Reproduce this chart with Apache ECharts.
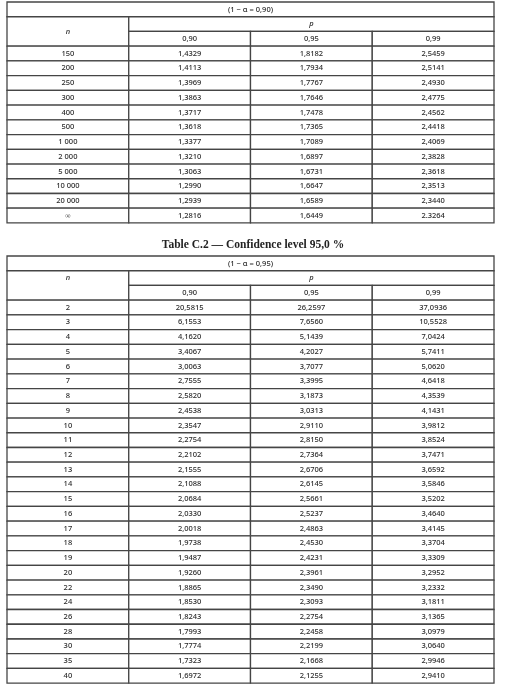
<!DOCTYPE html>
<html><head><meta charset="utf-8">
<script src="https://cdn.jsdelivr.net/npm/echarts@6/dist/echarts.min.js"></script>
<style>html,body{margin:0;padding:0;background:#fff}#c{width:506px;height:687px}</style>
</head><body><div id="c"></div>
<script>
const pLabels = ['0,90','0,95','0,99'];
const head1 = '(1 − α = 0,90)';
const head2 = '(1 − α = 0,95)';
const title2 = 'Table C.2 — Confidence level 95,0 %';
const n1 = ['150','200','250','300','400','500','1 000','2 000','5 000','10 000','20 000','∞'];
const t1p90 = ['1,4329','1,4113','1,3969','1,3863','1,3717','1,3618','1,3377','1,3210','1,3063','1,2990','1,2939','1,2816'];
const t1p95 = ['1,8182','1,7934','1,7767','1,7646','1,7478','1,7365','1,7089','1,6897','1,6731','1,6647','1,6589','1,6449'];
const t1p99 = ['2,5459','2,5141','2,4930','2,4775','2,4562','2,4418','2,4069','2,3828','2,3618','2,3513','2,3440','2.3264'];
const n2 = ['2','3','4','5','6','7','8','9','10','11','12','13','14','15','16','17','18','19','20','22','24','26','28','30','35','40'];
const t2p90 = ['20,5815','6,1553','4,1620','3,4067','3,0063','2,7555','2,5820','2,4538','2,3547','2,2754','2,2102','2,1555','2,1088','2,0684','2,0330','2,0018','1,9738','1,9487','1,9260','1,8865','1,8530','1,8243','1,7993','1,7774','1,7323','1,6972'];
const t2p95 = ['26,2597','7,6560','5,1439','4,2027','3,7077','3,3995','3,1873','3,0313','2,9110','2,8150','2,7364','2,6706','2,6145','2,5661','2,5237','2,4863','2,4530','2,4231','2,3961','2,3490','2,3093','2,2754','2,2458','2,2199','2,1668','2,1255'];
const t2p99 = ['37,0936','10,5528','7,0424','5,7411','5,0620','4,6418','4,3539','4,1431','3,9812','3,8524','3,7471','3,6592','3,5846','3,5202','3,4640','3,4145','3,3704','3,3309','3,2952','3,2332','3,1811','3,1365','3,0979','3,0640','2,9946','2,9410'];

function cells(head, n, c1, c2, c3, nTop){
  const d = [];
  d.push([0,4,0,1,head,0,0]);
  d.push([0,1,1,3,'n',1,nTop?1:0]);
  d.push([1,4,1,2,'p',1,0]);
  pLabels.forEach((p,i)=>d.push([1+i,2+i,2,3,p,0,0]));
  n.forEach((v,i)=>{
    const r=3+i;
    d.push([0,1,r,r+1,v,0,0]);
    d.push([1,2,r,r+1,c1[i],0,0]);
    d.push([2,3,r,r+1,c2[i],0,0]);
    d.push([3,4,r,r+1,c3[i],0,0]);
  });
  return d;
}
const RH = 14.73;
const d1 = cells(head1,n1,t1p90,t1p95,t1p99,false);
const d2 = cells(head2,n2,t2p90,t2p95,t2p99,true);
const rows1 = 3+n1.length, rows2 = 3+n2.length;
const d=[d1,d2];

function render(params, api){
  const x0=api.value(0), x1=api.value(1), y0=api.value(2), y1=api.value(3);
  const a=api.coord([x0,y0]), b=api.coord([x1,y1]);
  const txt = d[params.seriesIndex][params.dataIndex];
  const top = txt[6]===1;
  return {type:'group',children:[
    {type:'rect',shape:{x:a[0],y:a[1],width:b[0]-a[0],height:b[1]-a[1]},
     style:{fill:'#fff',stroke:'#454545',lineWidth:1.3}},
    {type:'text',style:{text:txt[4],x:(a[0]+b[0])/2,y:top?a[1]+7:(a[1]+b[1])/2,
      align:'center',verticalAlign:'middle',fill:'#2a2a2a',
      font:(txt[5]?'italic ':'')+'500 7.5px "Noto Sans"'}}
  ]};
}
const chart = echarts.init(document.getElementById('c'));
chart.setOption({
  animation:false,
  title:{text:title2,left:'center',top:234,textStyle:{fontFamily:'Liberation Serif',fontWeight:'bold',fontSize:11.5,color:'#222'}},
  grid:[{left:7,width:487,top:2,height:rows1*RH},{left:7,width:487,top:256,height:rows2*RH}],
  xAxis:[{type:'value',min:0,max:4,show:false,gridIndex:0},{type:'value',min:0,max:4,show:false,gridIndex:1}],
  yAxis:[{type:'value',min:0,max:rows1,inverse:true,show:false,gridIndex:0},{type:'value',min:0,max:rows2,inverse:true,show:false,gridIndex:1}],
  series:[
    {type:'custom',xAxisIndex:0,yAxisIndex:0,data:d1,renderItem:render,clip:false},
    {type:'custom',xAxisIndex:1,yAxisIndex:1,data:d2,renderItem:render,clip:false}
  ]
});
</script></body></html>
